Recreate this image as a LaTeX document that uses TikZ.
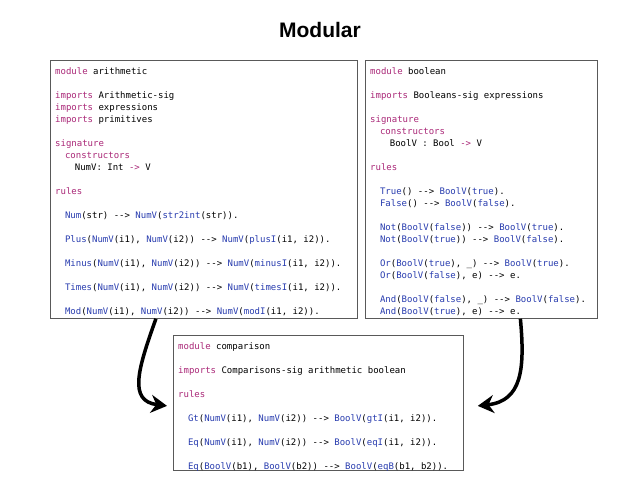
\documentclass[tikz,border=0pt]{standalone}
\usepackage{fontspec}
\setsansfont{Liberation Sans}
\setmonofont{DejaVu Sans Mono}
\usetikzlibrary{positioning, arrows.meta}
\definecolor{kwcol}{RGB}{170,40,120}
\definecolor{cncol}{RGB}{40,60,175}
\newcommand{\kw}[1]{\textcolor{kwcol}{#1}}
\newcommand{\cn}[1]{\textcolor{cncol}{#1}}
\newcommand{\ind}[1]{\hspace*{#1ex}}
\begin{document}
\begin{tikzpicture}[
    x=1pt, y=1pt,
    % box and code styles
    box/.style={rectangle, draw=black!65, line width=0.8pt, fill=white, anchor=north west, inner sep=0pt},
    code/.style={anchor=north west, align=left, inner sep=0pt, font=\fontsize{9}{12}\selectfont\ttfamily},
    flow/.style={line width=3.5pt, -{Stealth[length=16pt,width=18pt]}}
]
\useasboundingbox (0,0) rectangle (638,479);

\node[font=\fontsize{21}{24}\selectfont\sffamily\bfseries] (title) at (320,449) {Modular};

% module boxes
\node[box, minimum width=307, minimum height=258] (arith) at (50,419) {};
\node[box, minimum width=232, minimum height=258] (bool) at (365,419) {};
\node[box, minimum width=290, minimum height=135] (comp) at (173,144) {};

\node[code] (arithtext) at ([shift={(5,-7)}]arith.north west) {%
\kw{module} arithmetic\\ \mbox{}\\
\kw{imports} Arithmetic-sig\\
\kw{imports} expressions\\
\kw{imports} primitives\\ \mbox{}\\
\kw{signature}\\
\ind{2}\kw{constructors}\\
\ind{4}NumV: Int \kw{->} V\\ \mbox{}\\
\kw{rules}\\ \mbox{}\\
\ind{2}\cn{Num}(str) --> \cn{NumV}(\cn{str2int}(str)).\\ \mbox{}\\
\ind{2}\cn{Plus}(\cn{NumV}(i1), \cn{NumV}(i2)) --> \cn{NumV}(\cn{plusI}(i1, i2)).\\ \mbox{}\\
\ind{2}\cn{Minus}(\cn{NumV}(i1), \cn{NumV}(i2)) --> \cn{NumV}(\cn{minusI}(i1, i2)).\\ \mbox{}\\
\ind{2}\cn{Times}(\cn{NumV}(i1), \cn{NumV}(i2)) --> \cn{NumV}(\cn{timesI}(i1, i2)).\\ \mbox{}\\
\ind{2}\cn{Mod}(\cn{NumV}(i1), \cn{NumV}(i2)) --> \cn{NumV}(\cn{modI}(i1, i2)).};

\node[code] (booltext) at ([shift={(5,-7)}]bool.north west) {%
\kw{module} boolean\\ \mbox{}\\
\kw{imports} Booleans-sig expressions\\ \mbox{}\\
\kw{signature}\\
\ind{2}\kw{constructors}\\
\ind{4}BoolV : Bool \kw{->} V\\ \mbox{}\\
\kw{rules}\\ \mbox{}\\
\ind{2}\cn{True}() --> \cn{BoolV}(\cn{true}).\\
\ind{2}\cn{False}() --> \cn{BoolV}(\cn{false}).\\ \mbox{}\\
\ind{2}\cn{Not}(\cn{BoolV}(\cn{false})) --> \cn{BoolV}(\cn{true}).\\
\ind{2}\cn{Not}(\cn{BoolV}(\cn{true})) --> \cn{BoolV}(\cn{false}).\\ \mbox{}\\
\ind{2}\cn{Or}(\cn{BoolV}(\cn{true}), \_) --> \cn{BoolV}(\cn{true}).\\
\ind{2}\cn{Or}(\cn{BoolV}(\cn{false}), e) --> e.\\ \mbox{}\\
\ind{2}\cn{And}(\cn{BoolV}(\cn{false}), \_) --> \cn{BoolV}(\cn{false}).\\
\ind{2}\cn{And}(\cn{BoolV}(\cn{true}), e) --> e.};

\node[code] (comptext) at ([shift={(5,-7)}]comp.north west) {%
\kw{module} comparison\\ \mbox{}\\
\kw{imports} Comparisons-sig arithmetic boolean\\ \mbox{}\\
\kw{rules}\\ \mbox{}\\
\ind{2}\cn{Gt}(\cn{NumV}(i1), \cn{NumV}(i2)) --> \cn{BoolV}(\cn{gtI}(i1, i2)).\\ \mbox{}\\
\ind{2}\cn{Eq}(\cn{NumV}(i1), \cn{NumV}(i2)) --> \cn{BoolV}(\cn{eqI}(i1, i2)).\\ \mbox{}\\
\ind{2}\cn{Eq}(\cn{BoolV}(b1), \cn{BoolV}(b2)) --> \cn{BoolV}(\cn{eqB}(b1, b2)).};

% dependency arrows
\coordinate (arithout) at ([xshift=-48]arith.south);
\coordinate (compin) at ([xshift=-6,yshift=-3]comp.west);
\coordinate (boolout) at ([xshift=39]bool.south);
\coordinate (compin2) at ([xshift=14,yshift=-3]comp.east);
\draw[flow] (arithout) .. controls (138,110) and (128,78) .. (compin);
\draw[flow] (boolout) .. controls (525,110) and (522,78) .. (compin2);
\end{tikzpicture}
\end{document}
